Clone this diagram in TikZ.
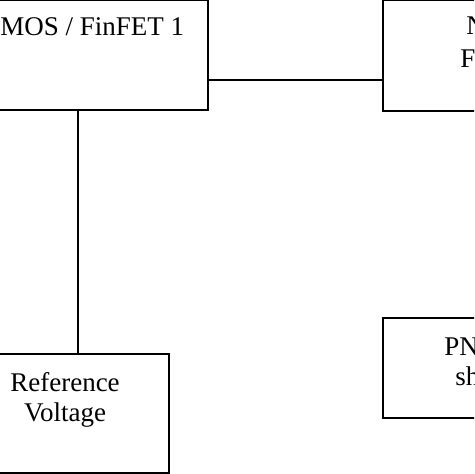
\documentclass[tikz,border=0pt]{standalone}
\usepackage{fontspec}
\setmainfont{Liberation Serif}
\usetikzlibrary{positioning,fit}
\tikzset{
  blk/.style={draw,line width=1pt,inner sep=0pt},
  txt/.style={font=\fontsize{13.5}{15}\selectfont,inner sep=0pt,anchor=base},
  wire/.style={line width=1pt}
}

\begin{document}
\begin{tikzpicture}[x=0.5pt,y=-0.5pt]
\useasboundingbox (0,0) rectangle (474,474);
\clip (0,0) rectangle (474,474);
% boxes (cut by the frame)
\node[blk,fit={(-25,0) (208,110)}] (fet1) {};
\node[blk,fit={(383,0) (560,111)}] (fet2) {};
\node[blk,fit={(-39,354) (169,472.5)}] (vref) {};
\node[blk,fit={(383,318) (560,418)}] (pnp) {};
% texts
\node[txt,anchor=base west] (fet1-t) at (0,36) {MOS / FinFET 1};
\node[txt,anchor=base west] (fet2-a) at (466,35) {N};
\node[txt,anchor=base west] (fet2-b) at (460,68) {F};
\node[txt] (vref-a) at (65,391) {Reference};
\node[txt] (vref-b) at (65,421) {Voltage};
\node[txt,anchor=base west] (pnp-a) at (444,355) {PN};
\node[txt,anchor=base west] (pnp-b) at (455,385) {sh};
% connectors
\coordinate (vx) at (78,0);
\coordinate (hy) at (0,80);
\draw[wire] (fet1.south -| vx) -- (vref.north -| vx);
\draw[wire] (fet1.east |- hy) -- (fet2.west |- hy);
\end{tikzpicture}
\end{document}
